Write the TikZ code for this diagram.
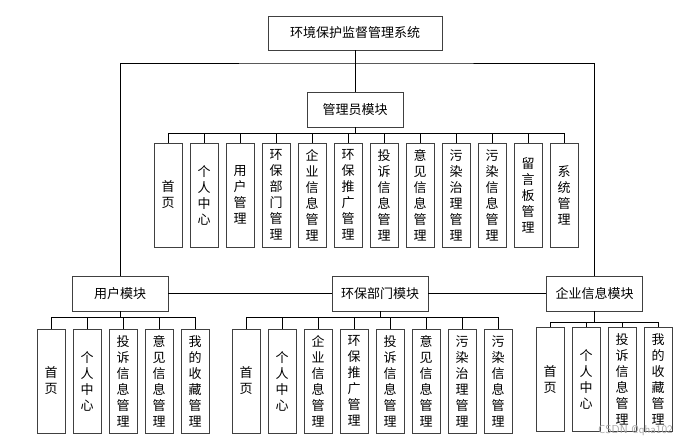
\documentclass[tikz,border=0pt]{standalone}
\usepackage{fontspec}
\newfontfamily\cjk{Noto Sans CJK SC}
\usetikzlibrary{positioning}

\begin{document}
\begin{tikzpicture}[x=1pt,y=-1pt,
  font=\cjk\fontsize{13}{16}\selectfont,
  sysbox/.style = {draw=black!75,line width=0.9pt,minimum width=174pt,
  minimum height=34pt,inner sep=0pt},
  module/.style = {draw=black!75,line width=0.9pt,minimum width=96pt,
  minimum height=35pt,inner sep=0pt},
  leaf/.style = {draw=black!75,line width=0.9pt,minimum width=28pt,
  minimum height=104pt,text width=14pt,align=center,inner sep=0pt},
  link/.style = {draw=black,line width=0.7pt}]
 \useasboundingbox (0,0) rectangle (692,445);
 % top level
 \node[sysbox] (sys) at (355,33) {环境保护监督管理系统};
 \node[module] (adm) at (355,109.5) {管理员模块};
 \node[module] (usr) at (120,293.5) {用户模块};
 \node[module] (env) at (380,293.5) {环保部门模块};
 \node[module] (ent) at (594.5,293.5) {企业信息模块};
 \coordinate (topbus) at (355,63);
 \draw[link] (sys) -- (adm);
 \draw[link] (usr.north) |- (topbus) -| (ent.north);
 \draw[link] (usr.east) -- (env.west);
 \draw[link] (env.east) -- (ent.west);
 % admin
 \foreach \t [count=\i] in {{首\\页},{个\\人\\中\\心},{用\\户\\管\\理},
   {环\\保\\部\\门\\管\\理},{企\\业\\信\\息\\管\\理},{环\\保\\推\\广\\管\\理},
   {投\\诉\\信\\息\\管\\理},{意\\见\\信\\息\\管\\理},{污\\染\\治\\理\\管\\理},
   {污\\染\\信\\息\\管\\理},{留\\言\\板\\管\\理},{系\\统\\管\\理}} {
  \node[leaf] (a\i) at (168+36*\i-36,195) {\t};
  \draw[link] (adm.south) -- ++(0,6) -| (a\i.north);
 }
 % user
 \foreach \t [count=\i] in {{首\\页},{个\\人\\中\\心},{投\\诉\\信\\息\\管\\理},
   {意\\见\\信\\息\\管\\理},{我\\的\\收\\藏\\管\\理}} {
  \node[leaf] (u\i) at (51+36*\i-36,381) {\t};
  \draw[link] (usr.south) -- ++(0,6) -| (u\i.north);
 }
 % environment dept
 \foreach \t [count=\i] in {{首\\页},{个\\人\\中\\心},{企\\业\\信\\息\\管\\理},
   {环\\保\\推\\广\\管\\理},{投\\诉\\信\\息\\管\\理},{意\\见\\信\\息\\管\\理},
   {污\\染\\治\\理\\管\\理},{污\\染\\信\\息\\管\\理}} {
  \node[leaf] (e\i) at (246+36*\i-36,381) {\t};
  \draw[link] (env.south) -- ++(0,6) -| (e\i.north);
 }
 % enterprise
 \foreach \t [count=\i] in {{首\\页},{个\\人\\中\\心},{投\\诉\\信\\息\\管\\理},
   {我\\的\\收\\藏\\管\\理}} {
  \node[leaf] (c\i) at (550+36*\i-36,379.5) {\t};
  \draw[link] (ent.south) -- ++(0,11) -| (c\i.north);
 }
 \node[text=black!35,font=\sffamily\fontsize{11.5}{12}\selectfont] (mark) at (635.5,430) {CSDN @qha102};
\end{tikzpicture}
\end{document}
